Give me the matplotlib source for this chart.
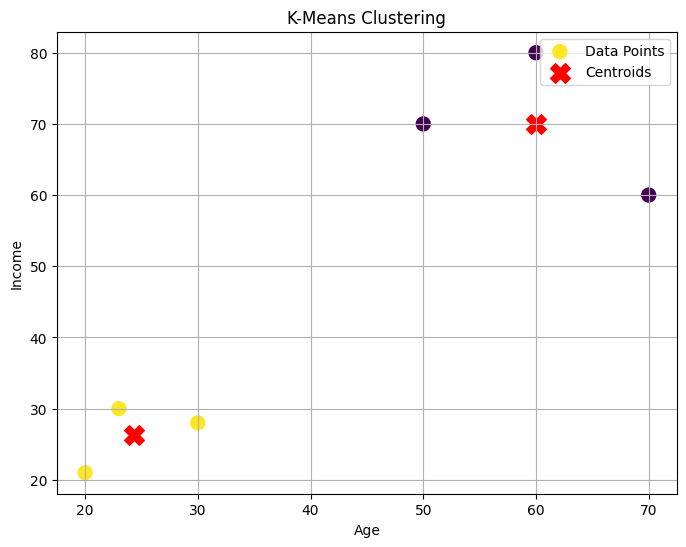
import numpy as np
import matplotlib
matplotlib.use('Agg')
import matplotlib.pyplot as plt

ages = [20, 23, 30, 50, 60, 70]
incomes = [21, 30, 28, 70, 80, 60]
clusters = [1, 1, 1, 0, 0, 0]
centroid_ages = [24.33, 60]
centroid_incomes = [26.33, 70]

fig, ax = plt.subplots(figsize=(8, 6), dpi=100)
ax.scatter(ages, incomes, c=clusters, cmap='viridis', s=100, label='Data Points')
ax.scatter(centroid_ages, centroid_incomes, c='red', s=200, marker='X', label='Centroids')
ax.set_title('K-Means Clustering')
ax.set_xlabel('Age')
ax.set_ylabel('Income')
ax.legend()
ax.grid(True)
fig.savefig('out.png', dpi=100, bbox_inches='tight')
